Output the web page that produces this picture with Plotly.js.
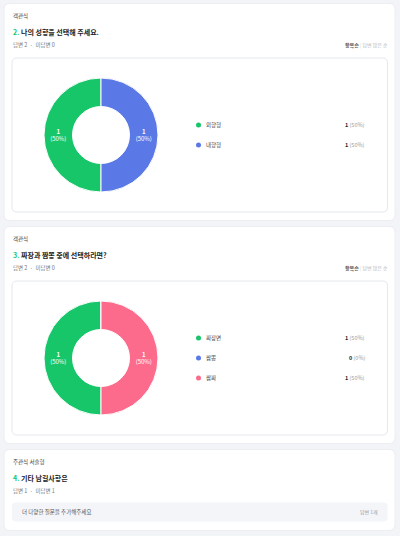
<!DOCTYPE html>
<html><head><meta charset="utf-8">
<script src="https://cdn.plot.ly/plotly-3.0.1.min.js"></script>
<style>html,body{margin:0;padding:0;background:#f3f4f8;}#chart{width:400px;height:536px;}</style>
</head><body><div id="chart"></div>
<script>
// ---- data ----
const q1Type = '객관식';
const q1Title = '나의 성향을 선택해 주세요.';
const q1Labels = ['외향형', '내향형'];
const q1Values = [1, 1];
const q1Answered = 2, q1Unanswered = 0;

const q2Type = '객관식';
const q2Title = '짜장과 짬뽕 중에 선택하라면?';
const q2Labels = ['짜장면', '짬뽕', '짬짜'];
const q2Values = [1, 0, 1];
const q2Answered = 2, q2Unanswered = 0;

const q3Type = '주관식 서술형';
const q3Title = '기타 남길사항은';
const q3Answers = ['더 다양한 질문을 추가해주세요'];
const q3Answered = 1, q3Unanswered = 1;

const sortLabels = ['항목순', '답변 많은 순'];
const q1Colors = ['#16c669', '#5a79e6'];
const q2Colors = ['#16c669', '#5a79e6', '#fd6b8c'];

// ---- layout helpers ----
const W = 400, H = 536;
const FONT = '"Noto Sans CJK KR", "Noto Sans", sans-serif';
function rr(x0, y0, x1, y1, r) {
  return `M${x0+r},${y0} L${x1-r},${y0} Q${x1},${y0} ${x1},${y0+r} L${x1},${y1-r} Q${x1},${y1} ${x1-r},${y1} L${x0+r},${y1} Q${x0},${y1} ${x0},${y1-r} L${x0},${y0+r} Q${x0},${y0} ${x0+r},${y0} Z`;
}
const shapes = [];
const annotations = [];
function ann(x, y, text, size, color, anchor) {
  annotations.push({x: x, y: y, xref: 'x', yref: 'y', text: text, showarrow: false,
    xanchor: anchor || 'left', yanchor: 'middle', borderpad: 0,
    font: {family: FONT, size: size, color: color}});
}
function card(y0, y1) {
  shapes.push({type: 'path', xref: 'x', yref: 'y', path: rr(4, y0, 395, y1, 6), fillcolor: '#ffffff', line: {color: '#eceef2', width: 1}, layer: 'below'});
}
function pct(v, arr) { const s = arr.reduce((a, b) => a + b, 0); return Math.round(v / s * 100); }

const traces = [];
function header(top, num, type, title, answered, unanswered, showSort) {
  ann(12, top + 12.5, type, 5.5, '#444444');
  ann(12, top + 28, `<b><span style="color:#16c669">${num}.</span> ${title}</b>`, 7, '#222222');
  ann(12, top + 41, `답변 ${answered}  ·  미답변 ${unanswered}`, 5.5, '#777777');
  if (showSort) ann(389, top + 41, `<b>${sortLabels[0]}</b> <span style="color:#d0d3d8">|</span> <span style="color:#b5b8be">${sortLabels[1]}</span>`, 5, '#555555', 'right');
}
function donutBlock(top, labels, values, colors) {
  const cy = top + 131.5, cx = 101, R = 57;
  shapes.push({type: 'path', xref: 'x', yref: 'y', path: rr(12, top + 54.5, 387.5, top + 208.5, 5), fillcolor: '#ffffff', line: {color: '#e6e8ec', width: 1}, layer: 'below'});
  traces.push({type: 'pie', labels: labels, values: values, sort: false, direction: 'clockwise', rotation: 180,
    hole: 0.5, marker: {colors: colors, line: {color: '#ffffff', width: 1}},
    text: values.map(v => v > 0 ? `<b>${v}</b><br>(${pct(v, values)}%)` : ''),
    textinfo: 'text', textposition: 'inside', insidetextorientation: 'horizontal',
    textfont: {family: FONT, size: 6, color: '#ffffff'}, hoverinfo: 'skip', showlegend: false,
    domain: {x: [(cx - R) / W, (cx + R) / W], y: [(H - cy - R) / H, (H - cy + R) / H]}});
  const n = labels.length;
  const ys = labels.map((_, i) => cy + (i - (n - 1) / 2) * 20);
  traces.push({type: 'scatter', mode: 'markers', x: labels.map(() => 198.5), y: ys,
    marker: {size: 5, color: colors}, hoverinfo: 'skip', showlegend: false, xaxis: 'x', yaxis: 'y'});
  labels.forEach((l, i) => {
    ann(205, ys[i], l, 5.5, '#444444');
    ann(366, ys[i], `<b style="color:#222">${values[i]}</b> <span style="color:#999">(${pct(values[i], values)}%)</span>`, 5.5, '#222222', 'right');
  });
}

// card 1
card(3.5, 220.5);
header(3.5, 2, q1Type, q1Title, q1Answered, q1Unanswered, true);
donutBlock(3.5, q1Labels, q1Values, q1Colors);
// card 2
card(226.5, 443.5);
header(226.5, 3, q2Type, q2Title, q2Answered, q2Unanswered, true);
donutBlock(226.5, q2Labels, q2Values, q2Colors);
// card 3
card(449.5, 530.5);
header(449.5, 4, q3Type, q3Title, q3Answered, q3Unanswered, false);
shapes.push({type: 'path', xref: 'x', yref: 'y', path: rr(12, 502.5, 387.5, 521.5, 4), fillcolor: '#f4f5f9', line: {width: 0}, layer: 'below'});
ann(21, 512, q3Answers[0], 5.5, '#555555');
ann(379, 512, `답변 ${q3Answers.length}개`, 5, '#999999', 'right');

const layout = {
  width: W, height: H, margin: {l: 0, r: 0, t: 0, b: 0},
  paper_bgcolor: '#f3f4f8', plot_bgcolor: 'rgba(0,0,0,0)',
  xaxis: {range: [0, W], visible: false, fixedrange: true},
  yaxis: {range: [H, 0], visible: false, fixedrange: true},
  showlegend: false, shapes: shapes, annotations: annotations,
  font: {family: FONT}
};
Plotly.newPlot('chart', traces, layout, {displayModeBar: false, staticPlot: true});
</script></body></html>
